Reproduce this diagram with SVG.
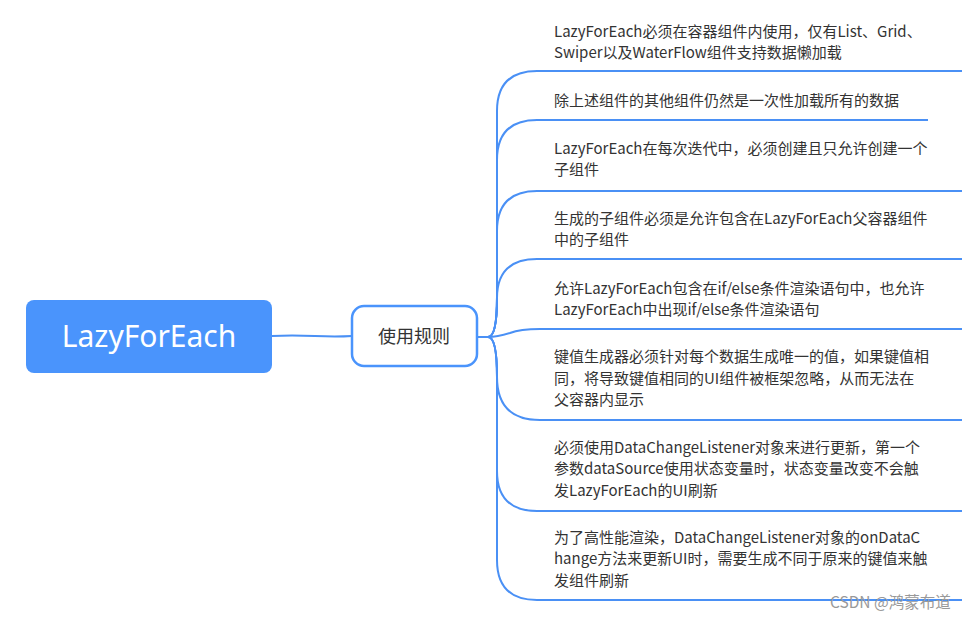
<svg xmlns="http://www.w3.org/2000/svg" width="980" height="620" viewBox="0 0 980 620">
<style>
.c{fill:none;stroke:#4a90f5;stroke-width:2}
.t{font-family:"Noto Sans CJK SC","Noto Sans",sans-serif;font-size:15px;fill:#333}
</style>
<rect width="980" height="620" fill="#fff"/>
<g id="connectors">
<path class="c" d="M272 336 C310 334 320 338 352 336"/>
<path class="c" d="M477 337 L488 337"/>
<path class="c" d="M488 337 Q497 337 497 297 L497 111 Q497 71 537 71 L962 71"/>
<path class="c" d="M488 337 Q497 337 497 297 L497 160 Q497 120 537 120 L928 120"/>
<path class="c" d="M488 337 Q497 337 497 297 L497 231 Q497 191 537 191 L962 191"/>
<path class="c" d="M488 337 Q497 337 497 298 Q497 259 537 259 L962 259"/>
<path class="c" d="M488 337 Q497 337 510 333 Q520 329 540 329 L962 329"/>
<path class="c" d="M488 337 Q497 337 497 377 Q497 420 540 420 L962 420"/>
<path class="c" d="M488 337 Q497 337 497 377 L497 471 Q497 511 537 511 L962 511"/>
<path class="c" d="M488 337 Q497 337 497 377 L497 560 Q497 600 537 600 L962 600"/>
</g>
<g id="root">
<rect x="26" y="300" width="246" height="73" rx="8" fill="#4a94fc"/>
<text x="149" y="347" text-anchor="middle" font-family="Noto Sans, sans-serif" font-size="30" fill="#fff">LazyForEach</text>
</g>
<g id="rules">
<rect x="352" y="306" width="125" height="60" rx="12" fill="#fff" stroke="#4a94fc" stroke-width="2.5"/>
<text x="414" y="343" text-anchor="middle" font-family="Noto Sans CJK SC, sans-serif" font-size="18" fill="#333">使用规则</text>
</g>
<g id="items" class="t">
<text class="t" x="554" y="37">LazyForEach必须在容器组件内使用，仅有List、Grid、</text>
<text class="t" x="554" y="58">Swiper以及WaterFlow组件支持数据懒加载</text>
<text class="t" x="554" y="106">除上述组件的其他组件仍然是一次性加载所有的数据</text>
<text class="t" x="554" y="154">LazyForEach在每次迭代中，必须创建且只允许创建一个</text>
<text class="t" x="554" y="175">子组件</text>
<text class="t" x="554" y="224">生成的子组件必须是允许包含在LazyForEach父容器组件</text>
<text class="t" x="554" y="245">中的子组件</text>
<text class="t" x="554" y="294">允许LazyForEach包含在if/else条件渲染语句中，也允许</text>
<text class="t" x="554" y="315">LazyForEach中出现if/else条件渲染语句</text>
<text class="t" x="554" y="362">键值生成器必须针对每个数据生成唯一的值，如果键值相</text>
<text class="t" x="554" y="384">同，将导致键值相同的UI组件被框架忽略，从而无法在</text>
<text class="t" x="554" y="405">父容器内显示</text>
<text class="t" x="554" y="453">必须使用DataChangeListener对象来进行更新，第一个</text>
<text class="t" x="554" y="474">参数dataSource使用状态变量时，状态变量改变不会触</text>
<text class="t" x="554" y="496">发LazyForEach的UI刷新</text>
<text class="t" x="554" y="543">为了高性能渲染，DataChangeListener对象的onDataC</text>
<text class="t" x="554" y="564">hange方法来更新UI时，需要生成不同于原来的键值来触</text>
<text class="t" x="554" y="586">发组件刷新</text>
</g>
<text x="830" y="608" font-family="Noto Sans CJK SC, sans-serif" font-size="15.5" fill="#999">CSDN @鸿蒙布道</text>
</svg>
